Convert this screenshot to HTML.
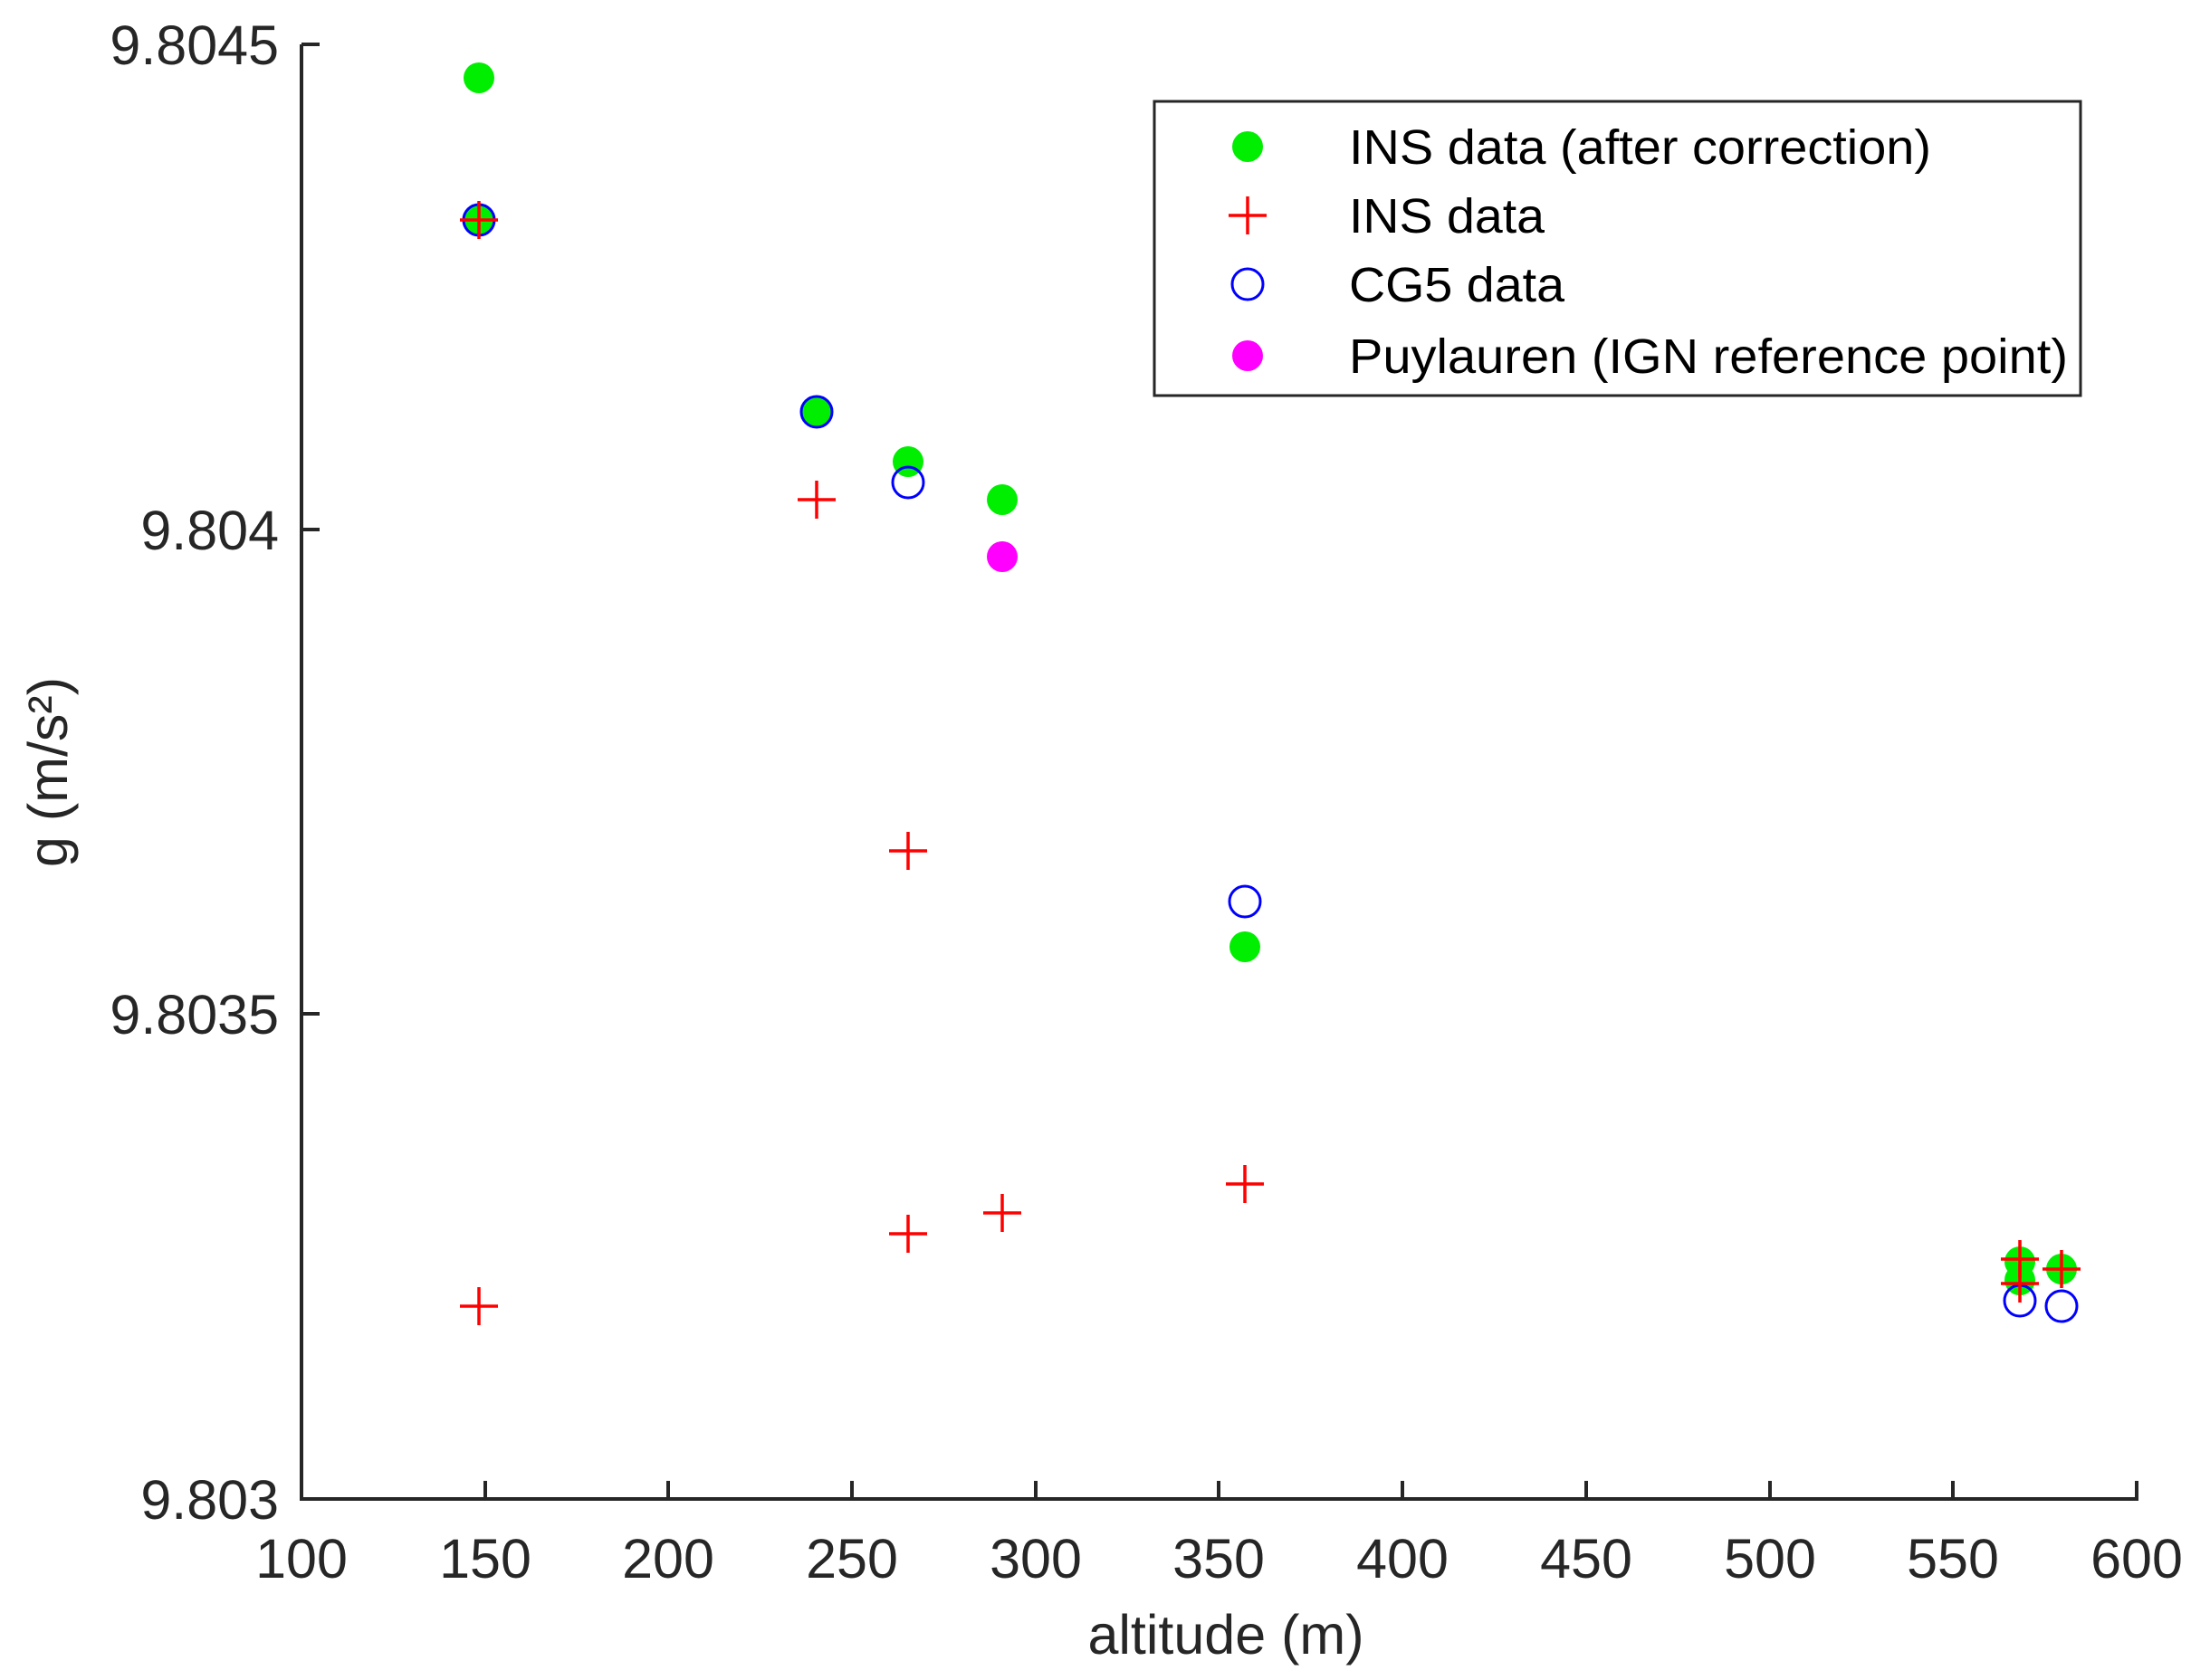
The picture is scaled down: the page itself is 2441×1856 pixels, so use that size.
<!DOCTYPE html>
<html><head><meta charset="utf-8"><style>html,body{margin:0;padding:0;background:#fff}svg{display:block}</style></head>
<body>
<svg width="2441" height="1856" xmlns="http://www.w3.org/2000/svg" font-family="Liberation Sans, sans-serif">
<rect width="2441" height="1856" fill="#fff"/>
<g stroke="#262626" stroke-width="4" fill="none">
<line x1="333" y1="49" x2="333" y2="1656"/>
<line x1="331" y1="1656" x2="2362" y2="1656"/>
<line x1="333" y1="49" x2="353" y2="49"/>
<line x1="333" y1="585" x2="353" y2="585"/>
<line x1="333" y1="1120" x2="353" y2="1120"/>
<line x1="536" y1="1656" x2="536" y2="1636"/>
<line x1="738" y1="1656" x2="738" y2="1636"/>
<line x1="941" y1="1656" x2="941" y2="1636"/>
<line x1="1144" y1="1656" x2="1144" y2="1636"/>
<line x1="1346" y1="1656" x2="1346" y2="1636"/>
<line x1="1549" y1="1656" x2="1549" y2="1636"/>
<line x1="1752" y1="1656" x2="1752" y2="1636"/>
<line x1="1955" y1="1656" x2="1955" y2="1636"/>
<line x1="2157" y1="1656" x2="2157" y2="1636"/>
<line x1="2360" y1="1656" x2="2360" y2="1636"/>
</g>
<g fill="#262626" font-size="61" text-anchor="middle">
<text x="333" y="1743">100</text><text x="536" y="1743">150</text><text x="738" y="1743">200</text>
<text x="941" y="1743">250</text><text x="1144" y="1743">300</text><text x="1346" y="1743">350</text>
<text x="1549" y="1743">400</text><text x="1752" y="1743">450</text><text x="1955" y="1743">500</text>
<text x="2157" y="1743">550</text><text x="2360" y="1743">600</text>
</g>
<g fill="#262626" font-size="61" text-anchor="end">
<text x="308" y="71">9.8045</text><text x="308" y="607">9.804</text>
<text x="308" y="1142">9.8035</text><text x="308" y="1678">9.803</text>
</g>
<text x="1354" y="1827" fill="#262626" font-size="61" text-anchor="middle">altitude (m)</text>
<text transform="translate(74,853) rotate(-90)" fill="#262626" font-size="61" text-anchor="middle">g (m/s²)</text>
<g fill="#00ee00">
<circle cx="529" cy="86" r="17"/><circle cx="529" cy="243" r="17"/><circle cx="902" cy="455" r="17"/>
<circle cx="1003" cy="510" r="17"/><circle cx="1107" cy="552" r="17"/><circle cx="1375" cy="1046" r="17"/>
<circle cx="2231" cy="1394" r="17"/><circle cx="2231" cy="1414" r="17"/><circle cx="2277" cy="1402" r="17"/>
</g>
<circle cx="1107" cy="615" r="17" fill="#ff00ff"/>
<g fill="none" stroke="#0000ff" stroke-width="3">
<circle cx="529" cy="243" r="17"/><circle cx="902" cy="455" r="17"/><circle cx="1003" cy="533" r="17"/>
<circle cx="1375" cy="996" r="17"/><circle cx="2231" cy="1437" r="17"/><circle cx="2277" cy="1443" r="17"/>
</g>
<g stroke="#ff0000" stroke-width="3.5">
<path d="M508 243h42M529 222v42"/>
<path d="M881 552h42M902 531v42"/>
<path d="M982 940h42M1003 919v42"/>
<path d="M508 1443h42M529 1422v42"/>
<path d="M982 1363h42M1003 1342v42"/>
<path d="M1086 1340h42M1107 1319v42"/>
<path d="M1354 1308h42M1375 1287v42"/>
<path d="M2210 1391h42M2231 1370v42"/>
<path d="M2210 1418h42M2231 1397v42"/>
<path d="M2256 1402h42M2277 1381v42"/>
</g>
<rect x="1275" y="112" width="1023" height="325" fill="#fff" stroke="#262626" stroke-width="3"/>
<circle cx="1378" cy="162" r="17" fill="#00ee00"/>
<path d="M1357 238h42M1378 217v42" stroke="#ff0000" stroke-width="3.5"/>
<circle cx="1378" cy="314" r="17" fill="none" stroke="#0000ff" stroke-width="3"/>
<circle cx="1378" cy="393" r="17" fill="#ff00ff"/>
<g fill="#000" font-size="54">
<text x="1490" y="181" textLength="643" lengthAdjust="spacingAndGlyphs">INS data (after correction)</text>
<text x="1490" y="257" textLength="216" lengthAdjust="spacingAndGlyphs">INS data</text>
<text x="1490" y="333" textLength="238" lengthAdjust="spacingAndGlyphs">CG5 data</text>
<text x="1490" y="412" textLength="794" lengthAdjust="spacingAndGlyphs">Puylauren (IGN reference point)</text>
</g>
</svg>
</body></html>
